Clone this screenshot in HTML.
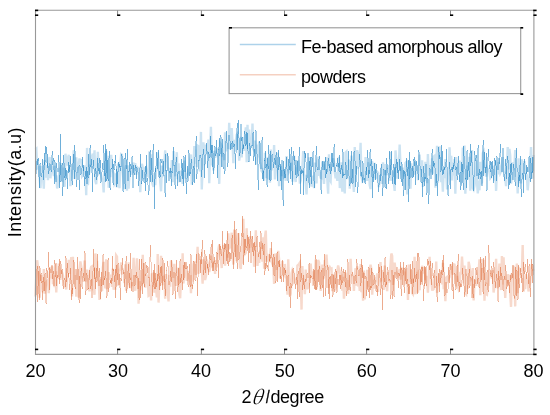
<!DOCTYPE html>
<html><head><meta charset="utf-8"><style>
html,body{margin:0;padding:0;background:#fff;}
svg{display:block;}
.t{font-family:"Liberation Sans",Arial,sans-serif;font-size:18px;fill:#000;}
.lg{font-family:"Liberation Sans",Arial,sans-serif;font-size:18px;fill:#000;letter-spacing:-0.5px;}
.yl{font-family:"Liberation Sans",Arial,sans-serif;font-size:18px;fill:#000;letter-spacing:0.43px;}
.th{font-family:"Liberation Serif","DejaVu Serif",serif;font-style:italic;font-size:20px;fill:#000;}
</style></head><body>
<svg width="550" height="415" viewBox="0 0 550 415">
<rect width="550" height="415" fill="#fff"/>

<polyline points="35.50,149.5 36.33,148.7 37.16,168.3 37.99,167.7 38.83,167.3 39.66,178.9 40.49,188.2 41.32,167.0 42.15,166.8 42.98,175.6 43.81,188.7 44.65,160.1 45.48,177.7 46.31,167.1 47.14,166.1 47.97,180.1 48.80,160.5 49.63,157.1 50.46,178.3 51.30,169.9 52.13,167.0 52.96,168.6 53.79,176.2 54.62,165.7 55.45,179.5 56.28,175.3 57.12,188.3 57.95,185.6 58.78,180.7 59.61,167.8 60.44,171.7 61.27,163.0 62.10,182.0 62.94,167.6 63.77,177.0 64.60,186.8 65.43,153.7 66.26,160.3 67.09,165.5 67.92,158.2 68.76,154.9 69.59,164.1 70.42,186.1 71.25,179.2 72.08,170.8 72.91,170.7 73.74,150.2 74.58,178.9 75.41,175.6 76.24,157.2 77.07,172.9 77.90,168.1 78.73,164.1 79.56,158.4 80.39,162.2 81.23,159.0 82.06,176.1 82.89,174.9 83.72,174.4 84.55,168.3 85.38,165.5 86.21,195.3 87.05,147.9 87.88,185.1 88.71,174.8 89.54,171.4 90.37,164.4 91.20,167.9 92.03,156.1 92.87,153.7 93.70,169.2 94.53,150.4 95.36,180.8 96.19,184.2 97.02,171.4 97.85,151.7 98.69,173.9 99.52,173.2 100.35,172.0 101.18,175.8 102.01,179.7 102.84,181.2 103.67,192.4 104.51,171.0 105.34,181.2 106.17,151.0 107.00,169.1 107.83,155.9 108.66,187.7 109.49,169.3 110.32,177.3 111.16,154.9 111.99,169.4 112.82,171.1 113.65,173.2 114.48,184.0 115.31,182.4 116.14,173.3 116.98,187.4 117.81,164.8 118.64,164.0 119.47,188.1 120.30,167.6 121.13,154.2 121.96,154.7 122.80,171.6 123.63,181.9 124.46,189.1 125.29,168.8 126.12,165.2 126.95,190.6 127.78,165.3 128.62,188.6 129.45,173.8 130.28,173.8 131.11,168.1 131.94,174.6 132.77,165.3 133.60,162.7 134.43,169.3 135.27,163.1 136.10,174.7 136.93,172.0 137.76,167.8 138.59,168.6 139.42,168.2 140.25,192.2 141.09,170.9 141.92,163.8 142.75,167.4 143.58,179.1 144.41,168.6 145.24,169.2 146.07,167.9 146.91,173.1 147.74,175.8 148.57,176.5 149.40,151.2 150.23,158.1 151.06,154.3 151.89,180.8 152.73,184.6 153.56,186.9 154.39,172.9 155.22,185.1 156.05,170.7 156.88,169.7 157.71,152.4 158.55,161.6 159.38,163.9 160.21,182.3 161.04,191.3 161.87,165.5 162.70,175.7 163.53,174.5 164.36,161.8 165.20,150.3 166.03,162.0 166.86,153.7 167.69,167.4 168.52,169.5 169.35,169.0 170.18,169.2 171.02,177.2 171.85,160.0 172.68,182.2 173.51,151.1 174.34,172.2 175.17,176.2 176.00,161.9 176.84,152.2 177.67,179.3 178.50,163.4 179.33,181.1 180.16,181.0 180.99,171.6 181.82,171.7 182.66,183.8 183.49,176.4 184.32,160.5 185.15,173.9 185.98,178.6 186.81,174.4 187.64,174.3 188.47,170.2 189.31,170.6 190.14,160.7 190.97,154.5 191.80,184.6 192.63,161.7 193.46,169.8 194.29,146.1 195.13,163.6 195.96,149.7 196.79,167.2 197.62,145.6 198.45,146.1 199.28,169.1 200.11,171.3 200.95,131.9 201.78,189.5 202.61,167.8 203.44,142.3 204.27,165.2 205.10,150.4 205.93,144.6 206.77,152.3 207.60,150.9 208.43,139.5 209.26,183.2 210.09,150.4 210.92,126.7 211.75,165.5 212.59,153.9 213.42,170.5 214.25,150.7 215.08,157.8 215.91,154.2 216.74,154.7 217.57,149.8 218.40,150.6 219.24,183.9 220.07,142.8 220.90,144.0 221.73,146.0 222.56,156.7 223.39,154.2 224.22,160.2 225.06,132.4 225.89,151.3 226.72,145.6 227.55,143.8 228.38,148.9 229.21,122.7 230.04,149.3 230.88,147.4 231.71,128.0 232.54,143.7 233.37,163.3 234.20,139.8 235.03,151.6 235.86,141.7 236.70,134.8 237.53,133.6 238.36,140.1 239.19,160.7 240.02,155.0 240.85,136.8 241.68,157.4 242.52,144.0 243.35,137.3 244.18,151.0 245.01,135.0 245.84,127.3 246.67,162.1 247.50,124.9 248.33,153.9 249.17,129.5 250.00,148.0 250.83,146.5 251.66,144.1 252.49,123.6 253.32,149.1 254.15,150.4 254.99,140.6 255.82,151.1 256.65,164.4 257.48,144.6 258.31,157.4 259.14,141.6 259.97,161.4 260.81,166.0 261.64,171.1 262.47,172.2 263.30,168.0 264.13,180.8 264.96,152.8 265.79,178.3 266.63,159.2 267.46,158.6 268.29,179.4 269.12,169.3 269.95,182.7 270.78,149.6 271.61,170.5 272.44,161.2 273.28,164.5 274.11,145.1 274.94,179.4 275.77,171.0 276.60,156.9 277.43,152.8 278.26,158.7 279.10,186.2 279.93,168.5 280.76,165.9 281.59,176.0 282.42,170.3 283.25,173.0 284.08,179.2 284.92,174.3 285.75,180.8 286.58,156.0 287.41,171.1 288.24,166.1 289.07,171.6 289.90,169.8 290.74,162.7 291.57,166.2 292.40,181.7 293.23,163.8 294.06,155.5 294.89,177.5 295.72,182.0 296.56,167.2 297.39,171.9 298.22,160.4 299.05,168.0 299.88,183.6 300.71,180.0 301.54,172.2 302.37,167.1 303.21,151.0 304.04,174.2 304.87,175.9 305.70,183.0 306.53,194.5 307.36,174.9 308.19,181.9 309.03,157.2 309.86,184.8 310.69,180.8 311.52,186.7 312.35,178.5 313.18,175.9 314.01,188.1 314.85,162.6 315.68,178.2 316.51,183.4 317.34,161.2 318.17,156.8 319.00,175.7 319.83,172.0 320.67,177.8 321.50,178.2 322.33,161.5 323.16,174.6 323.99,184.0 324.82,166.4 325.65,167.2 326.48,157.2 327.32,180.3 328.15,193.8 328.98,154.4 329.81,179.7 330.64,181.3 331.47,164.0 332.30,166.2 333.14,158.3 333.97,161.4 334.80,172.6 335.63,178.4 336.46,172.1 337.29,180.8 338.12,173.1 338.96,156.8 339.79,187.9 340.62,184.7 341.45,162.3 342.28,191.7 343.11,176.3 343.94,172.3 344.78,193.5 345.61,152.6 346.44,151.7 347.27,179.2 348.10,167.8 348.93,159.5 349.76,188.6 350.60,176.5 351.43,155.6 352.26,162.9 353.09,180.8 353.92,192.0 354.75,147.0 355.58,173.8 356.41,166.3 357.25,150.1 358.08,168.8 358.91,151.8 359.74,164.5 360.57,142.8 361.40,176.9 362.23,180.1 363.07,178.0 363.90,175.1 364.73,182.4 365.56,157.0 366.39,166.6 367.22,181.0 368.05,162.2 368.89,165.7 369.72,185.2 370.55,189.1 371.38,163.7 372.21,161.2 373.04,177.8 373.87,174.1 374.71,162.9 375.54,178.0 376.37,177.5 377.20,171.9 378.03,172.8 378.86,187.1 379.69,180.6 380.53,183.1 381.36,167.6 382.19,184.0 383.02,162.4 383.85,174.8 384.68,171.9 385.51,164.2 386.34,174.1 387.18,174.0 388.01,170.3 388.84,165.2 389.67,180.8 390.50,152.0 391.33,180.8 392.16,171.1 393.00,174.3 393.83,182.6 394.66,191.0 395.49,150.4 396.32,160.7 397.15,178.7 397.98,163.8 398.82,166.2 399.65,144.5 400.48,165.8 401.31,173.5 402.14,179.1 402.97,167.6 403.80,173.6 404.64,176.2 405.47,163.0 406.30,162.1 407.13,194.4 407.96,160.9 408.79,185.7 409.62,171.9 410.45,188.6 411.29,163.4 412.12,177.2 412.95,175.0 413.78,168.3 414.61,174.7 415.44,161.9 416.27,170.1 417.11,166.3 417.94,180.1 418.77,170.0 419.60,154.5 420.43,166.6 421.26,169.9 422.09,160.3 422.93,186.9 423.76,175.9 424.59,181.1 425.42,161.9 426.25,166.3 427.08,183.1 427.91,154.0 428.75,175.4 429.58,172.1 430.41,165.1 431.24,172.1 432.07,158.2 432.90,173.7 433.73,156.5 434.57,155.8 435.40,187.7 436.23,162.7 437.06,145.8 437.89,182.7 438.72,161.8 439.55,146.2 440.38,170.4 441.22,182.1 442.05,175.3 442.88,191.6 443.71,169.6 444.54,178.2 445.37,159.0 446.20,173.0 447.04,189.4 447.87,177.1 448.70,173.0 449.53,147.4 450.36,166.6 451.19,155.7 452.02,180.4 452.86,162.2 453.69,175.4 454.52,159.1 455.35,193.6 456.18,157.0 457.01,172.7 457.84,170.2 458.68,173.6 459.51,160.6 460.34,178.4 461.17,182.9 462.00,181.5 462.83,147.5 463.66,173.7 464.49,145.6 465.33,193.8 466.16,171.9 466.99,165.6 467.82,179.1 468.65,176.9 469.48,156.9 470.31,190.6 471.15,168.2 471.98,150.0 472.81,187.9 473.64,189.5 474.47,186.1 475.30,177.7 476.13,160.4 476.97,182.3 477.80,193.4 478.63,180.9 479.46,190.3 480.29,161.8 481.12,183.4 481.95,182.4 482.79,153.2 483.62,151.6 484.45,162.5 485.28,172.1 486.11,176.6 486.94,168.4 487.77,170.3 488.61,169.8 489.44,172.2 490.27,178.2 491.10,177.1 491.93,170.5 492.76,174.3 493.59,165.7 494.42,180.7 495.26,165.1 496.09,190.9 496.92,170.9 497.75,174.4 498.58,162.0 499.41,167.0 500.24,173.1 501.08,171.4 501.91,163.6 502.74,157.1 503.57,171.6 504.40,173.0 505.23,177.8 506.06,186.2 506.90,167.4 507.73,147.1 508.56,169.4 509.39,148.9 510.22,155.6 511.05,183.6 511.88,178.0 512.72,163.4 513.55,163.5 514.38,170.1 515.21,150.0 516.04,177.0 516.87,166.9 517.70,193.4 518.54,158.4 519.37,183.3 520.20,162.9 521.03,183.5 521.86,159.3 522.69,180.0 523.52,165.8 524.35,161.2 525.19,169.4 526.02,176.9 526.85,176.1 527.68,190.3 528.51,181.1 529.34,179.6 530.17,166.3 531.01,147.1 531.84,166.5 532.67,178.7 533.50,155.0" fill="none" stroke="#0072BD" stroke-width="2.4" stroke-opacity="0.2"/>
<polyline points="35.50,296.5 36.33,275.0 37.16,260.2 37.99,267.2 38.83,273.6 39.66,297.6 40.49,280.1 41.32,275.1 42.15,286.9 42.98,292.3 43.81,269.1 44.65,293.7 45.48,287.3 46.31,282.7 47.14,280.8 47.97,279.8 48.80,293.3 49.63,274.6 50.46,267.4 51.30,278.5 52.13,266.2 52.96,284.3 53.79,281.0 54.62,287.1 55.45,275.2 56.28,292.4 57.12,271.4 57.95,279.2 58.78,263.6 59.61,268.7 60.44,280.0 61.27,270.3 62.10,272.6 62.94,275.4 63.77,280.6 64.60,286.4 65.43,286.4 66.26,289.3 67.09,280.0 67.92,271.6 68.76,259.8 69.59,273.8 70.42,268.7 71.25,257.2 72.08,296.4 72.91,256.9 73.74,281.8 74.58,284.0 75.41,275.1 76.24,296.7 77.07,278.0 77.90,269.1 78.73,297.7 79.56,268.7 80.39,261.5 81.23,266.3 82.06,270.5 82.89,278.3 83.72,281.6 84.55,260.5 85.38,281.7 86.21,273.8 87.05,269.6 87.88,276.3 88.71,285.6 89.54,291.4 90.37,270.2 91.20,266.8 92.03,266.3 92.87,290.2 93.70,288.0 94.53,294.8 95.36,253.4 96.19,263.7 97.02,260.7 97.85,282.4 98.69,280.2 99.52,300.0 100.35,286.8 101.18,279.1 102.01,291.2 102.84,267.6 103.67,261.9 104.51,278.1 105.34,288.4 106.17,259.3 107.00,287.9 107.83,287.5 108.66,272.1 109.49,279.7 110.32,274.6 111.16,278.7 111.99,286.9 112.82,268.6 113.65,289.6 114.48,287.7 115.31,288.1 116.14,255.3 116.98,256.6 117.81,285.6 118.64,271.1 119.47,269.9 120.30,269.0 121.13,262.5 121.96,274.5 122.80,269.5 123.63,270.3 124.46,283.2 125.29,264.3 126.12,290.6 126.95,278.3 127.78,284.5 128.62,262.3 129.45,284.4 130.28,288.1 131.11,277.7 131.94,286.2 132.77,276.5 133.60,257.7 134.43,281.7 135.27,290.8 136.10,271.5 136.93,258.4 137.76,270.9 138.59,303.6 139.42,281.2 140.25,290.3 141.09,284.1 141.92,283.5 142.75,254.9 143.58,281.2 144.41,278.3 145.24,287.6 146.07,273.8 146.91,276.0 147.74,278.4 148.57,295.7 149.40,295.1 150.23,284.8 151.06,300.4 151.89,273.3 152.73,283.7 153.56,272.6 154.39,292.6 155.22,278.2 156.05,289.0 156.88,297.5 157.71,254.1 158.55,302.6 159.38,281.5 160.21,274.2 161.04,255.9 161.87,274.4 162.70,285.1 163.53,278.8 164.36,275.9 165.20,298.7 166.03,274.1 166.86,290.1 167.69,291.2 168.52,301.5 169.35,275.0 170.18,286.6 171.02,260.4 171.85,265.2 172.68,274.7 173.51,277.6 174.34,263.9 175.17,273.1 176.00,285.9 176.84,272.6 177.67,276.1 178.50,267.7 179.33,293.8 180.16,298.3 180.99,280.3 181.82,276.6 182.66,253.3 183.49,283.4 184.32,270.2 185.15,262.4 185.98,271.1 186.81,280.8 187.64,271.1 188.47,273.5 189.31,277.9 190.14,275.4 190.97,293.1 191.80,275.0 192.63,281.7 193.46,264.7 194.29,261.2 195.13,265.6 195.96,275.0 196.79,263.2 197.62,246.9 198.45,273.8 199.28,265.6 200.11,263.6 200.95,259.3 201.78,268.9 202.61,283.7 203.44,259.4 204.27,270.5 205.10,280.0 205.93,276.5 206.77,265.4 207.60,262.7 208.43,265.6 209.26,272.0 210.09,267.8 210.92,255.5 211.75,265.4 212.59,264.1 213.42,267.2 214.25,261.1 215.08,274.0 215.91,260.0 216.74,267.3 217.57,257.0 218.40,249.3 219.24,244.4 220.07,252.8 220.90,260.2 221.73,268.0 222.56,251.8 223.39,246.2 224.22,245.7 225.06,265.8 225.89,251.5 226.72,243.9 227.55,257.6 228.38,233.3 229.21,249.2 230.04,246.7 230.88,245.1 231.71,232.7 232.54,256.8 233.37,264.5 234.20,229.6 235.03,246.0 235.86,251.9 236.70,261.1 237.53,239.4 238.36,233.1 239.19,243.8 240.02,266.9 240.85,268.9 241.68,246.4 242.52,263.7 243.35,218.7 244.18,250.8 245.01,254.0 245.84,252.8 246.67,228.3 247.50,250.5 248.33,245.4 249.17,247.8 250.00,236.4 250.83,240.8 251.66,236.3 252.49,247.3 253.32,244.4 254.15,266.8 254.99,255.1 255.82,230.2 256.65,253.6 257.48,265.8 258.31,253.1 259.14,263.0 259.97,250.6 260.81,259.7 261.64,241.4 262.47,261.7 263.30,237.4 264.13,268.7 264.96,237.0 265.79,230.6 266.63,261.6 267.46,254.1 268.29,257.9 269.12,262.1 269.95,257.5 270.78,248.2 271.61,261.5 272.44,263.8 273.28,266.1 274.11,284.0 274.94,253.5 275.77,263.4 276.60,269.8 277.43,258.9 278.26,251.0 279.10,259.0 279.93,278.4 280.76,264.0 281.59,275.2 282.42,261.1 283.25,276.3 284.08,265.2 284.92,265.1 285.75,277.5 286.58,277.8 287.41,294.7 288.24,259.3 289.07,283.9 289.90,296.5 290.74,293.7 291.57,273.6 292.40,270.2 293.23,272.3 294.06,281.5 294.89,280.2 295.72,282.0 296.56,284.9 297.39,265.7 298.22,265.0 299.05,263.9 299.88,262.6 300.71,276.9 301.54,309.6 302.37,266.1 303.21,284.1 304.04,278.2 304.87,294.3 305.70,269.6 306.53,281.9 307.36,289.2 308.19,287.0 309.03,282.6 309.86,274.0 310.69,263.7 311.52,276.2 312.35,271.2 313.18,285.9 314.01,276.4 314.85,284.5 315.68,259.5 316.51,289.2 317.34,268.2 318.17,260.0 319.00,262.2 319.83,270.8 320.67,290.9 321.50,286.2 322.33,264.5 323.16,279.0 323.99,276.8 324.82,260.0 325.65,266.6 326.48,254.6 327.32,268.0 328.15,288.0 328.98,268.9 329.81,267.2 330.64,268.8 331.47,268.5 332.30,291.3 333.14,274.0 333.97,280.8 334.80,286.7 335.63,288.3 336.46,285.8 337.29,271.6 338.12,265.4 338.96,269.1 339.79,272.6 340.62,278.1 341.45,277.0 342.28,290.6 343.11,276.8 343.94,298.6 344.78,289.8 345.61,272.5 346.44,287.9 347.27,280.0 348.10,293.8 348.93,282.7 349.76,282.6 350.60,258.7 351.43,275.0 352.26,275.1 353.09,276.4 353.92,290.9 354.75,275.8 355.58,268.2 356.41,285.6 357.25,266.4 358.08,286.5 358.91,279.6 359.74,290.9 360.57,264.1 361.40,292.3 362.23,281.4 363.07,300.6 363.90,270.5 364.73,299.3 365.56,286.1 366.39,287.0 367.22,269.7 368.05,284.4 368.89,285.7 369.72,268.5 370.55,264.7 371.38,269.1 372.21,294.8 373.04,279.8 373.87,288.7 374.71,281.3 375.54,279.3 376.37,280.5 377.20,273.3 378.03,292.0 378.86,280.0 379.69,280.6 380.53,262.1 381.36,281.5 382.19,270.3 383.02,272.3 383.85,289.9 384.68,265.5 385.51,275.7 386.34,285.2 387.18,291.2 388.01,272.1 388.84,281.7 389.67,281.3 390.50,265.1 391.33,253.5 392.16,255.9 393.00,284.9 393.83,279.2 394.66,262.6 395.49,270.7 396.32,273.4 397.15,273.9 397.98,277.6 398.82,271.9 399.65,269.0 400.48,279.6 401.31,269.2 402.14,270.8 402.97,267.9 403.80,275.4 404.64,271.7 405.47,282.0 406.30,280.4 407.13,267.8 407.96,300.0 408.79,264.6 409.62,282.1 410.45,271.5 411.29,269.8 412.12,293.2 412.95,294.3 413.78,281.9 414.61,256.8 415.44,294.3 416.27,279.0 417.11,271.7 417.94,292.6 418.77,269.7 419.60,290.2 420.43,271.7 421.26,284.1 422.09,265.7 422.93,273.5 423.76,267.5 424.59,269.8 425.42,280.1 426.25,276.0 427.08,280.1 427.91,292.7 428.75,276.7 429.58,256.7 430.41,274.7 431.24,278.9 432.07,289.7 432.90,289.8 433.73,288.9 434.57,275.4 435.40,285.4 436.23,261.5 437.06,292.8 437.89,283.0 438.72,283.8 439.55,273.6 440.38,278.6 441.22,270.3 442.05,284.5 442.88,262.8 443.71,289.1 444.54,284.2 445.37,301.2 446.20,277.6 447.04,276.9 447.87,280.2 448.70,278.4 449.53,276.8 450.36,265.4 451.19,265.3 452.02,271.5 452.86,274.7 453.69,264.4 454.52,264.7 455.35,274.7 456.18,286.5 457.01,275.8 457.84,285.8 458.68,289.1 459.51,286.8 460.34,273.2 461.17,273.4 462.00,256.6 462.83,270.2 463.66,283.4 464.49,265.5 465.33,293.5 466.16,294.4 466.99,273.8 467.82,288.6 468.65,261.8 469.48,266.0 470.31,273.7 471.15,278.1 471.98,275.9 472.81,268.1 473.64,300.5 474.47,281.3 475.30,281.3 476.13,285.8 476.97,280.0 477.80,275.4 478.63,271.6 479.46,259.3 480.29,295.1 481.12,267.5 481.95,259.0 482.79,268.8 483.62,259.7 484.45,300.8 485.28,282.2 486.11,294.1 486.94,294.6 487.77,284.5 488.61,284.6 489.44,269.7 490.27,277.0 491.10,271.1 491.93,278.5 492.76,270.0 493.59,292.5 494.42,286.7 495.26,276.8 496.09,258.9 496.92,285.8 497.75,288.1 498.58,277.2 499.41,263.6 500.24,282.9 501.08,290.0 501.91,256.1 502.74,284.5 503.57,257.2 504.40,278.9 505.23,298.0 506.06,279.0 506.90,283.5 507.73,274.3 508.56,277.9 509.39,276.8 510.22,293.3 511.05,306.9 511.88,273.6 512.72,278.2 513.55,265.7 514.38,280.4 515.21,306.4 516.04,273.8 516.87,263.5 517.70,293.1 518.54,277.1 519.37,269.0 520.20,270.1 521.03,270.3 521.86,271.1 522.69,245.1 523.52,291.7 524.35,282.4 525.19,289.1 526.02,274.1 526.85,282.0 527.68,279.9 528.51,291.4 529.34,287.3 530.17,282.1 531.01,270.6 531.84,264.3 532.67,268.9 533.50,270.8" fill="none" stroke="#D95319" stroke-width="2.4" stroke-opacity="0.22"/>
<polyline points="35.50,170.5 36.05,174.3 36.61,167.0 37.16,159.1 37.72,164.7 38.27,157.8 38.82,171.3 39.38,187.7 39.93,164.2 40.49,162.6 41.04,176.8 41.59,175.1 42.15,171.9 42.70,158.6 43.26,170.2 43.81,179.5 44.36,153.4 44.92,164.7 45.47,146.2 46.03,154.1 46.58,147.0 47.13,167.6 47.69,154.4 48.24,174.1 48.79,172.6 49.35,168.2 49.90,163.4 50.46,163.7 51.01,170.0 51.56,172.1 52.12,151.0 52.67,164.5 53.23,158.1 53.78,160.3 54.33,184.2 54.89,160.3 55.44,170.2 56.00,182.0 56.55,163.2 57.10,169.2 57.66,172.1 58.21,171.5 58.77,155.0 59.32,171.7 59.87,188.1 60.43,134.2 60.98,181.7 61.54,172.2 62.09,162.5 62.64,196.3 63.20,180.5 63.75,155.4 64.31,171.7 64.86,178.1 65.41,168.3 65.97,179.5 66.52,169.9 67.08,179.3 67.63,189.2 68.18,162.1 68.74,173.4 69.29,164.8 69.84,172.4 70.40,155.6 70.95,163.4 71.51,168.3 72.06,182.3 72.61,185.4 73.17,153.8 73.72,160.6 74.28,179.1 74.83,145.3 75.38,164.9 75.94,169.6 76.49,186.9 77.05,179.6 77.60,166.6 78.15,166.1 78.71,167.6 79.26,190.3 79.82,165.4 80.37,167.0 80.92,175.4 81.48,169.3 82.03,168.3 82.59,156.6 83.14,170.7 83.69,165.2 84.25,185.8 84.80,179.2 85.36,170.6 85.91,179.4 86.46,166.5 87.02,184.4 87.57,170.8 88.13,178.4 88.68,154.4 89.23,175.3 89.79,149.3 90.34,144.9 90.89,167.0 91.45,159.4 92.00,173.0 92.56,191.6 93.11,160.3 93.66,163.0 94.22,173.6 94.77,177.3 95.33,168.7 95.88,168.3 96.43,180.0 96.99,177.6 97.54,157.7 98.10,170.0 98.65,171.4 99.20,157.5 99.76,174.3 100.31,160.0 100.87,183.4 101.42,173.5 101.97,172.1 102.53,163.4 103.08,169.5 103.64,145.4 104.19,156.5 104.74,175.7 105.30,143.8 105.85,181.9 106.41,148.7 106.96,180.7 107.51,160.2 108.07,181.0 108.62,172.7 109.18,151.4 109.73,187.0 110.28,189.5 110.84,170.2 111.39,167.6 111.94,169.0 112.50,158.6 113.05,185.1 113.61,164.1 114.16,170.4 114.71,160.9 115.27,163.1 115.82,154.7 116.38,187.2 116.93,169.1 117.48,183.5 118.04,171.3 118.59,162.2 119.15,166.9 119.70,164.0 120.25,171.2 120.81,166.3 121.36,167.3 121.92,153.5 122.47,160.8 123.02,192.3 123.58,162.6 124.13,157.7 124.69,175.5 125.24,189.2 125.79,152.6 126.35,168.5 126.90,163.1 127.46,148.7 128.01,180.6 128.56,170.9 129.12,172.1 129.67,161.6 130.23,177.0 130.78,164.3 131.33,169.4 131.89,157.0 132.44,155.7 132.99,188.3 133.55,164.7 134.10,175.0 134.66,170.8 135.21,165.6 135.76,164.8 136.32,179.3 136.87,167.4 137.43,169.3 137.98,171.6 138.53,186.3 139.09,180.0 139.64,176.2 140.20,164.1 140.75,153.6 141.30,183.5 141.86,183.7 142.41,169.5 142.97,178.2 143.52,181.3 144.07,182.0 144.63,183.1 145.18,165.5 145.74,190.7 146.29,155.4 146.84,182.4 147.40,177.7 147.95,182.5 148.51,195.4 149.06,190.4 149.61,156.7 150.17,149.7 150.72,181.8 151.28,158.4 151.83,171.2 152.38,182.1 152.94,150.3 153.49,144.4 154.05,174.7 154.60,209.4 155.15,168.3 155.71,171.9 156.26,160.4 156.81,152.0 157.37,169.3 157.92,159.0 158.48,150.4 159.03,177.9 159.58,170.6 160.14,176.6 160.69,158.8 161.25,163.0 161.80,158.7 162.35,160.1 162.91,174.0 163.46,161.4 164.02,176.0 164.57,175.8 165.12,197.4 165.68,153.7 166.23,182.8 166.79,170.3 167.34,171.3 167.89,152.9 168.45,165.6 169.00,181.0 169.56,170.5 170.11,172.6 170.66,167.9 171.22,186.4 171.77,171.4 172.33,173.1 172.88,162.8 173.43,146.5 173.99,165.5 174.54,165.0 175.10,188.9 175.65,172.4 176.20,156.8 176.76,159.8 177.31,186.3 177.86,173.9 178.42,172.5 178.97,171.3 179.53,172.5 180.08,182.3 180.63,179.1 181.19,174.8 181.74,158.7 182.30,178.6 182.85,163.3 183.40,186.1 183.96,155.9 184.51,170.4 185.07,172.1 185.62,155.3 186.17,194.3 186.73,191.0 187.28,166.4 187.84,182.2 188.39,177.2 188.94,150.0 189.50,175.6 190.05,171.6 190.61,173.5 191.16,158.7 191.71,168.6 192.27,169.0 192.82,185.2 193.38,172.5 193.93,165.9 194.48,183.2 195.04,154.5 195.59,155.1 196.15,135.8 196.70,178.5 197.25,170.6 197.81,169.9 198.36,166.7 198.91,159.5 199.47,160.7 200.02,154.7 200.58,155.2 201.13,158.4 201.68,177.0 202.24,164.7 202.79,156.7 203.35,150.0 203.90,149.2 204.45,177.8 205.01,163.7 205.56,158.0 206.12,152.6 206.67,142.7 207.22,156.0 207.78,168.0 208.33,151.7 208.89,153.7 209.44,153.7 209.99,157.7 210.55,135.7 211.10,152.8 211.66,144.6 212.21,166.6 212.76,145.2 213.32,162.1 213.87,174.0 214.43,150.2 214.98,146.2 215.53,156.1 216.09,153.3 216.64,140.4 217.20,158.7 217.75,178.3 218.30,149.0 218.86,149.4 219.41,138.3 219.96,155.5 220.52,135.2 221.07,136.7 221.63,167.0 222.18,138.7 222.73,163.9 223.29,169.3 223.84,152.8 224.40,156.3 224.95,173.9 225.50,146.2 226.06,140.8 226.61,130.8 227.17,148.4 227.72,166.5 228.27,159.6 228.83,135.0 229.38,135.8 229.94,140.0 230.49,149.9 231.04,143.3 231.60,148.4 232.15,149.2 232.71,141.3 233.26,144.4 233.81,147.4 234.37,143.6 234.92,151.1 235.48,168.7 236.03,152.4 236.58,145.7 237.14,123.4 237.69,150.1 238.25,120.3 238.80,127.3 239.35,156.3 239.91,154.5 240.46,143.6 241.02,123.8 241.57,141.0 242.12,137.1 242.68,154.1 243.23,144.7 243.78,148.9 244.34,136.2 244.89,131.3 245.45,145.7 246.00,144.3 246.55,132.0 247.11,148.5 247.66,132.6 248.22,161.9 248.77,161.6 249.32,162.2 249.88,142.6 250.43,155.6 250.99,147.6 251.54,144.7 252.09,145.6 252.65,133.7 253.20,132.2 253.76,161.1 254.31,148.9 254.86,154.4 255.42,164.8 255.97,130.1 256.53,142.6 257.08,155.3 257.63,158.6 258.19,190.3 258.74,168.2 259.30,158.6 259.85,141.4 260.40,146.0 260.96,169.3 261.51,165.9 262.07,136.6 262.62,179.2 263.17,170.6 263.73,181.1 264.28,159.7 264.83,161.4 265.39,151.2 265.94,167.8 266.50,163.8 267.05,186.5 267.60,158.1 268.16,168.6 268.71,145.3 269.27,161.9 269.82,179.6 270.37,151.1 270.93,181.0 271.48,171.8 272.04,154.3 272.59,161.4 273.14,162.1 273.70,167.5 274.25,161.4 274.81,157.8 275.36,164.7 275.91,155.6 276.47,152.4 277.02,168.5 277.58,180.5 278.13,149.8 278.68,169.6 279.24,161.4 279.79,157.4 280.35,180.9 280.90,163.5 281.45,189.5 282.01,160.4 282.56,175.4 283.12,205.8 283.67,160.8 284.22,178.0 284.78,168.5 285.33,178.2 285.88,169.9 286.44,156.6 286.99,169.2 287.55,171.2 288.10,182.8 288.65,158.9 289.21,170.0 289.76,148.5 290.32,178.8 290.87,156.7 291.42,147.4 291.98,169.7 292.53,184.7 293.09,151.0 293.64,156.6 294.19,161.0 294.75,156.0 295.30,175.4 295.86,160.2 296.41,161.3 296.96,178.0 297.52,160.8 298.07,176.0 298.63,158.1 299.18,155.0 299.73,147.0 300.29,194.3 300.84,166.4 301.40,173.6 301.95,170.1 302.50,172.5 303.06,171.1 303.61,194.9 304.17,157.2 304.72,150.6 305.27,157.5 305.83,153.4 306.38,180.1 306.93,181.0 307.49,158.2 308.04,152.7 308.60,166.0 309.15,188.3 309.70,161.2 310.26,177.2 310.81,156.7 311.37,183.8 311.92,156.7 312.47,166.8 313.03,151.2 313.58,158.0 314.14,188.2 314.69,181.0 315.24,165.4 315.80,159.4 316.35,146.3 316.91,165.5 317.46,170.1 318.01,169.4 318.57,169.3 319.12,156.1 319.68,169.7 320.23,170.0 320.78,187.0 321.34,194.4 321.89,168.7 322.45,160.7 323.00,169.7 323.55,162.7 324.11,161.0 324.66,169.7 325.22,157.1 325.77,178.3 326.32,169.2 326.88,173.7 327.43,168.2 327.98,161.2 328.54,158.4 329.09,167.5 329.65,163.5 330.20,173.5 330.75,170.4 331.31,153.1 331.86,171.4 332.42,153.3 332.97,162.6 333.52,166.7 334.08,143.9 334.63,171.7 335.19,172.4 335.74,168.5 336.29,165.1 336.85,165.7 337.40,158.0 337.96,167.0 338.51,163.4 339.06,171.7 339.62,155.1 340.17,173.5 340.73,172.3 341.28,168.7 341.83,164.9 342.39,177.6 342.94,149.2 343.50,176.4 344.05,173.6 344.60,174.1 345.16,175.4 345.71,162.1 346.27,167.2 346.82,178.7 347.37,176.0 347.93,173.1 348.48,151.1 349.04,177.4 349.59,185.5 350.14,183.4 350.70,173.5 351.25,150.6 351.80,182.6 352.36,168.6 352.91,184.1 353.47,175.3 354.02,151.4 354.57,153.9 355.13,162.4 355.68,186.8 356.24,165.8 356.79,174.0 357.34,192.9 357.90,190.9 358.45,169.2 359.01,167.4 359.56,154.4 360.11,161.6 360.67,175.9 361.22,175.6 361.78,171.9 362.33,183.2 362.88,160.6 363.44,169.8 363.99,179.9 364.55,178.0 365.10,184.2 365.65,175.6 366.21,166.5 366.76,175.1 367.32,157.7 367.87,149.5 368.42,177.9 368.98,169.8 369.53,174.4 370.09,148.8 370.64,165.8 371.19,162.8 371.75,159.4 372.30,198.2 372.85,166.2 373.41,182.0 373.96,175.4 374.52,162.8 375.07,170.3 375.62,180.2 376.18,163.6 376.73,168.9 377.29,177.5 377.84,179.2 378.39,192.3 378.95,185.0 379.50,174.5 380.06,174.4 380.61,180.6 381.16,163.6 381.72,170.0 382.27,182.1 382.83,195.6 383.38,168.5 383.93,169.9 384.49,173.0 385.04,187.7 385.60,170.1 386.15,189.3 386.70,158.1 387.26,168.1 387.81,168.0 388.37,180.6 388.92,183.9 389.47,151.2 390.03,158.8 390.58,174.8 391.14,162.1 391.69,151.0 392.24,183.8 392.80,176.8 393.35,176.8 393.90,164.4 394.46,183.7 395.01,167.4 395.57,184.5 396.12,158.8 396.67,159.6 397.23,173.1 397.78,161.5 398.34,179.1 398.89,173.8 399.44,158.7 400.00,171.4 400.55,166.0 401.11,182.2 401.66,162.4 402.21,164.9 402.77,186.0 403.32,169.8 403.88,196.1 404.43,171.3 404.98,173.3 405.54,190.1 406.09,168.9 406.65,158.0 407.20,172.0 407.75,176.3 408.31,159.9 408.86,202.1 409.42,152.1 409.97,179.0 410.52,160.8 411.08,168.7 411.63,173.2 412.19,178.4 412.74,166.2 413.29,176.9 413.85,159.1 414.40,165.9 414.95,157.4 415.51,185.0 416.06,170.2 416.62,161.0 417.17,166.0 417.72,167.7 418.28,179.5 418.83,150.1 419.39,157.2 419.94,165.7 420.49,168.8 421.05,182.7 421.60,169.1 422.16,179.6 422.71,196.8 423.26,167.5 423.82,165.8 424.37,186.0 424.93,176.8 425.48,179.1 426.03,164.0 426.59,195.1 427.14,192.4 427.70,177.7 428.25,179.3 428.80,204.4 429.36,178.7 429.91,168.0 430.47,176.1 431.02,179.2 431.57,166.1 432.13,148.9 432.68,175.2 433.24,161.0 433.79,166.3 434.34,162.8 434.90,166.1 435.45,173.7 436.01,186.1 436.56,173.7 437.11,184.7 437.67,195.8 438.22,170.8 438.77,147.4 439.33,159.1 439.88,155.1 440.44,164.1 440.99,171.5 441.54,144.9 442.10,174.9 442.65,151.2 443.21,174.3 443.76,169.1 444.31,166.5 444.87,169.6 445.42,163.6 445.98,162.7 446.53,149.0 447.08,170.1 447.64,194.1 448.19,195.9 448.75,187.4 449.30,179.5 449.85,161.8 450.41,189.0 450.96,169.8 451.52,169.6 452.07,166.8 452.62,171.7 453.18,164.9 453.73,169.4 454.29,156.6 454.84,165.7 455.39,168.0 455.95,169.6 456.50,167.4 457.06,177.3 457.61,179.6 458.16,156.2 458.72,167.8 459.27,182.3 459.82,174.0 460.38,172.1 460.93,190.4 461.49,161.8 462.04,171.6 462.59,163.8 463.15,189.6 463.70,145.5 464.26,161.9 464.81,163.7 465.36,179.0 465.92,178.3 466.47,188.4 467.03,150.4 467.58,180.1 468.13,166.7 468.69,162.0 469.24,177.4 469.80,158.7 470.35,143.9 470.90,165.8 471.46,151.3 472.01,162.2 472.57,175.3 473.12,174.5 473.67,190.8 474.23,167.9 474.78,150.9 475.34,160.8 475.89,158.7 476.44,154.9 477.00,176.1 477.55,162.2 478.11,145.2 478.66,179.4 479.21,169.1 479.77,175.1 480.32,171.9 480.87,178.6 481.43,171.0 481.98,186.3 482.54,175.9 483.09,140.3 483.64,175.7 484.20,151.9 484.75,168.4 485.31,167.2 485.86,173.2 486.41,153.1 486.97,191.4 487.52,171.8 488.08,155.0 488.63,148.6 489.18,166.9 489.74,169.4 490.29,161.3 490.85,171.7 491.40,162.3 491.95,177.6 492.51,161.2 493.06,170.0 493.62,183.0 494.17,171.4 494.72,157.6 495.28,164.6 495.83,159.8 496.39,180.5 496.94,155.8 497.49,164.3 498.05,170.1 498.60,158.0 499.16,158.2 499.71,164.4 500.26,143.6 500.82,152.0 501.37,165.2 501.92,172.4 502.48,168.1 503.03,147.8 503.59,164.6 504.14,180.7 504.69,177.6 505.25,169.5 505.80,159.1 506.36,178.6 506.91,163.1 507.46,155.5 508.02,160.2 508.57,189.0 509.13,173.3 509.68,185.3 510.23,164.4 510.79,182.5 511.34,162.8 511.90,168.5 512.45,178.7 513.00,180.3 513.56,164.1 514.11,169.4 514.67,174.7 515.22,186.0 515.77,164.2 516.33,148.2 516.88,166.9 517.44,170.7 517.99,171.9 518.54,187.4 519.10,174.6 519.65,180.9 520.21,156.4 520.76,181.6 521.31,197.3 521.87,180.4 522.42,173.7 522.97,172.5 523.53,193.4 524.08,158.6 524.64,169.1 525.19,176.4 525.74,180.0 526.30,164.9 526.85,174.4 527.41,166.9 527.96,172.0 528.51,168.8 529.07,155.9 529.62,170.2 530.18,181.7 530.73,158.1 531.28,167.4 531.84,179.0 532.39,156.8 532.95,172.8 533.50,156.9" fill="none" stroke="#0072BD" stroke-width="0.4" stroke-opacity="0.85" shape-rendering="crispEdges"/>
<polyline points="35.50,298.0 36.05,294.7 36.61,276.2 37.16,265.8 37.72,301.5 38.27,270.8 38.82,291.4 39.38,299.8 39.93,266.2 40.49,280.7 41.04,273.2 41.59,283.4 42.15,281.1 42.70,300.3 43.26,284.3 43.81,277.2 44.36,290.6 44.92,274.1 45.47,273.0 46.03,303.7 46.58,267.6 47.13,271.5 47.69,277.8 48.24,264.8 48.79,252.4 49.35,289.8 49.90,268.0 50.46,270.9 51.01,272.9 51.56,265.7 52.12,264.6 52.67,279.2 53.23,271.2 53.78,286.0 54.33,286.1 54.89,259.5 55.44,277.0 56.00,263.3 56.55,286.4 57.10,274.6 57.66,277.8 58.21,276.3 58.77,270.4 59.32,259.4 59.87,284.1 60.43,261.0 60.98,263.4 61.54,273.8 62.09,269.0 62.64,280.4 63.20,289.2 63.75,280.2 64.31,279.6 64.86,277.6 65.41,287.4 65.97,255.5 66.52,281.6 67.08,266.3 67.63,262.8 68.18,277.4 68.74,272.7 69.29,284.2 69.84,290.3 70.40,267.5 70.95,276.5 71.51,300.4 72.06,287.5 72.61,294.4 73.17,278.5 73.72,260.4 74.28,264.0 74.83,285.7 75.38,288.6 75.94,268.7 76.49,274.1 77.05,280.4 77.60,256.7 78.15,273.2 78.71,296.4 79.26,303.1 79.82,276.0 80.37,298.9 80.92,271.1 81.48,267.7 82.03,288.0 82.59,288.6 83.14,272.9 83.69,274.1 84.25,281.2 84.80,250.8 85.36,256.0 85.91,295.0 86.46,273.0 87.02,275.4 87.57,290.3 88.13,288.2 88.68,289.0 89.23,270.2 89.79,278.4 90.34,282.0 90.89,288.7 91.45,278.6 92.00,297.7 92.56,274.5 93.11,270.2 93.66,249.0 94.22,279.0 94.77,267.8 95.33,289.2 95.88,280.5 96.43,267.7 96.99,281.5 97.54,253.5 98.10,274.0 98.65,283.5 99.20,285.6 99.76,268.2 100.31,288.1 100.87,299.4 101.42,272.3 101.97,286.1 102.53,259.0 103.08,254.2 103.64,284.6 104.19,277.9 104.74,279.7 105.30,270.5 105.85,273.9 106.41,286.9 106.96,297.7 107.51,274.8 108.07,257.9 108.62,292.4 109.18,284.5 109.73,285.4 110.28,279.5 110.84,282.6 111.39,278.3 111.94,283.5 112.50,255.5 113.05,270.6 113.61,269.3 114.16,277.0 114.71,281.5 115.27,268.5 115.82,297.8 116.38,264.8 116.93,272.1 117.48,280.2 118.04,262.6 118.59,284.1 119.15,284.9 119.70,273.9 120.25,299.9 120.81,278.4 121.36,280.7 121.92,266.1 122.47,257.6 123.02,269.9 123.58,273.6 124.13,272.0 124.69,286.5 125.24,272.9 125.79,264.0 126.35,255.8 126.90,293.2 127.46,270.7 128.01,271.3 128.56,264.4 129.12,288.0 129.67,272.5 130.23,280.0 130.78,253.4 131.33,291.2 131.89,282.1 132.44,283.9 132.99,292.0 133.55,275.1 134.10,275.4 134.66,285.9 135.21,282.5 135.76,274.5 136.32,277.9 136.87,271.5 137.43,285.9 137.98,288.5 138.53,277.5 139.09,299.6 139.64,259.2 140.20,274.7 140.75,297.6 141.30,272.4 141.86,258.5 142.41,293.9 142.97,283.9 143.52,263.3 144.07,286.6 144.63,265.3 145.18,261.6 145.74,275.6 146.29,271.7 146.84,264.5 147.40,273.1 147.95,265.6 148.51,278.1 149.06,277.2 149.61,286.3 150.17,245.4 150.72,261.7 151.28,261.8 151.83,274.5 152.38,295.6 152.94,287.5 153.49,269.9 154.05,288.6 154.60,263.7 155.15,289.4 155.71,272.9 156.26,286.5 156.81,284.8 157.37,274.2 157.92,281.3 158.48,264.8 159.03,276.6 159.58,290.3 160.14,267.4 160.69,285.8 161.25,278.5 161.80,265.5 162.35,290.0 162.91,257.9 163.46,268.0 164.02,281.7 164.57,263.2 165.12,295.7 165.68,290.4 166.23,270.7 166.79,270.9 167.34,261.8 167.89,260.9 168.45,282.7 169.00,284.8 169.56,281.6 170.11,280.6 170.66,270.8 171.22,281.7 171.77,260.0 172.33,277.6 172.88,294.9 173.43,293.1 173.99,272.0 174.54,273.5 175.10,293.8 175.65,298.6 176.20,259.7 176.76,272.4 177.31,280.2 177.86,291.9 178.42,267.5 178.97,285.1 179.53,273.9 180.08,258.6 180.63,282.6 181.19,275.9 181.74,273.5 182.30,290.0 182.85,285.5 183.40,264.6 183.96,280.0 184.51,261.6 185.07,268.5 185.62,262.1 186.17,261.8 186.73,269.3 187.28,265.9 187.84,283.7 188.39,286.9 188.94,274.6 189.50,264.2 190.05,287.0 190.61,253.5 191.16,254.6 191.71,286.1 192.27,285.2 192.82,288.7 193.38,274.0 193.93,260.9 194.48,268.9 195.04,280.5 195.59,263.6 196.15,263.2 196.70,253.9 197.25,296.3 197.81,278.5 198.36,273.1 198.91,253.4 199.47,253.9 200.02,259.8 200.58,272.6 201.13,251.9 201.68,263.5 202.24,239.7 202.79,249.9 203.35,269.5 203.90,274.8 204.45,250.2 205.01,254.4 205.56,272.7 206.12,258.3 206.67,256.2 207.22,268.4 207.78,264.3 208.33,274.8 208.89,270.7 209.44,254.2 209.99,259.3 210.55,259.7 211.10,244.0 211.66,248.2 212.21,271.0 212.76,240.3 213.32,270.6 213.87,261.9 214.43,256.5 214.98,264.2 215.53,263.1 216.09,271.4 216.64,252.0 217.20,253.6 217.75,253.0 218.30,277.8 218.86,266.3 219.41,243.7 219.96,250.3 220.52,245.5 221.07,253.6 221.63,255.6 222.18,245.9 222.73,230.6 223.29,264.0 223.84,256.5 224.40,242.7 224.95,248.8 225.50,244.3 226.06,250.3 226.61,261.2 227.17,230.9 227.72,264.1 228.27,243.7 228.83,265.5 229.38,252.2 229.94,261.5 230.49,253.2 231.04,258.9 231.60,246.3 232.15,235.4 232.71,252.9 233.26,253.1 233.81,269.3 234.37,220.6 234.92,241.9 235.48,256.7 236.03,229.2 236.58,241.2 237.14,268.9 237.69,260.5 238.25,233.2 238.80,260.4 239.35,257.4 239.91,252.5 240.46,247.7 241.02,246.0 241.57,232.8 242.12,236.8 242.68,215.6 243.23,244.5 243.78,264.7 244.34,239.0 244.89,252.6 245.45,239.4 246.00,246.9 246.55,248.3 247.11,244.9 247.66,234.6 248.22,262.2 248.77,236.9 249.32,253.4 249.88,241.9 250.43,231.4 250.99,262.5 251.54,254.5 252.09,236.2 252.65,251.6 253.20,242.5 253.76,255.8 254.31,246.0 254.86,242.1 255.42,273.3 255.97,245.5 256.53,246.6 257.08,236.0 257.63,240.4 258.19,257.2 258.74,256.6 259.30,250.3 259.85,242.4 260.40,259.2 260.96,231.3 261.51,247.8 262.07,249.2 262.62,242.6 263.17,254.7 263.73,245.4 264.28,244.2 264.83,275.3 265.39,263.2 265.94,269.0 266.50,255.8 267.05,267.0 267.60,265.2 268.16,270.7 268.71,269.5 269.27,254.4 269.82,260.6 270.37,257.3 270.93,257.3 271.48,242.3 272.04,259.5 272.59,267.3 273.14,253.5 273.70,274.2 274.25,276.4 274.81,256.8 275.36,279.0 275.91,283.4 276.47,268.6 277.02,252.1 277.58,281.5 278.13,262.7 278.68,260.6 279.24,267.0 279.79,259.7 280.35,279.2 280.90,276.2 281.45,282.1 282.01,275.4 282.56,260.1 283.12,268.8 283.67,282.3 284.22,268.5 284.78,267.8 285.33,273.0 285.88,269.9 286.44,291.0 286.99,286.7 287.55,277.7 288.10,275.3 288.65,283.0 289.21,287.9 289.76,287.0 290.32,308.4 290.87,283.1 291.42,288.0 291.98,287.0 292.53,271.1 293.09,267.5 293.64,268.8 294.19,275.3 294.75,280.1 295.30,288.9 295.86,285.3 296.41,276.5 296.96,278.3 297.52,298.8 298.07,270.8 298.63,281.6 299.18,296.5 299.73,282.1 300.29,253.9 300.84,282.4 301.40,273.4 301.95,276.7 302.50,290.4 303.06,283.5 303.61,274.9 304.17,288.5 304.72,283.1 305.27,279.2 305.83,281.6 306.38,281.0 306.93,274.0 307.49,272.6 308.04,278.3 308.60,266.7 309.15,263.1 309.70,293.4 310.26,275.2 310.81,277.7 311.37,276.4 311.92,278.3 312.47,278.3 313.03,278.8 313.58,268.5 314.14,289.0 314.69,269.8 315.24,290.2 315.80,255.4 316.35,265.5 316.91,289.7 317.46,276.3 318.01,270.1 318.57,282.4 319.12,265.7 319.68,278.9 320.23,289.3 320.78,272.7 321.34,270.3 321.89,284.4 322.45,288.3 323.00,267.9 323.55,297.0 324.11,271.0 324.66,253.7 325.22,273.6 325.77,296.2 326.32,277.0 326.88,270.4 327.43,269.2 327.98,265.1 328.54,294.0 329.09,277.0 329.65,299.1 330.20,275.7 330.75,282.4 331.31,288.0 331.86,273.7 332.42,275.2 332.97,296.5 333.52,274.9 334.08,291.7 334.63,277.9 335.19,269.1 335.74,284.0 336.29,270.9 336.85,292.5 337.40,289.3 337.96,278.7 338.51,285.2 339.06,284.7 339.62,274.7 340.17,288.6 340.73,275.3 341.28,285.3 341.83,266.8 342.39,279.2 342.94,282.9 343.50,268.7 344.05,273.1 344.60,271.7 345.16,286.6 345.71,269.5 346.27,283.2 346.82,296.0 347.37,282.3 347.93,259.0 348.48,279.5 349.04,290.3 349.59,274.7 350.14,291.2 350.70,285.4 351.25,283.1 351.80,275.0 352.36,272.0 352.91,275.1 353.47,278.8 354.02,284.3 354.57,283.1 355.13,274.6 355.68,278.9 356.24,282.7 356.79,259.0 357.34,269.1 357.90,268.7 358.45,275.7 359.01,274.9 359.56,275.1 360.11,267.9 360.67,286.1 361.22,281.4 361.78,258.8 362.33,278.3 362.88,264.9 363.44,298.3 363.99,272.8 364.55,273.5 365.10,279.2 365.65,275.8 366.21,277.5 366.76,296.4 367.32,280.9 367.87,288.0 368.42,291.5 368.98,266.7 369.53,298.1 370.09,286.3 370.64,289.5 371.19,268.0 371.75,287.9 372.30,283.1 372.85,271.9 373.41,274.7 373.96,284.9 374.52,275.4 375.07,280.5 375.62,289.0 376.18,291.6 376.73,285.1 377.29,292.6 377.84,295.6 378.39,263.7 378.95,272.5 379.50,267.1 380.06,279.4 380.61,295.3 381.16,285.9 381.72,265.9 382.27,309.7 382.83,290.4 383.38,272.0 383.93,277.1 384.49,281.8 385.04,256.7 385.60,287.4 386.15,282.3 386.70,284.9 387.26,266.7 387.81,269.2 388.37,271.2 388.92,281.2 389.47,279.1 390.03,279.7 390.58,299.4 391.14,293.6 391.69,269.8 392.24,270.5 392.80,298.5 393.35,274.5 393.90,294.5 394.46,297.1 395.01,271.8 395.57,275.1 396.12,279.2 396.67,268.0 397.23,266.7 397.78,273.5 398.34,288.3 398.89,273.0 399.44,275.8 400.00,272.7 400.55,262.1 401.11,295.8 401.66,268.3 402.21,270.5 402.77,284.8 403.32,261.8 403.88,285.4 404.43,293.0 404.98,268.1 405.54,280.7 406.09,265.1 406.65,284.2 407.20,279.3 407.75,280.8 408.31,294.4 408.86,283.8 409.42,294.1 409.97,285.7 410.52,264.1 411.08,281.3 411.63,284.0 412.19,261.2 412.74,294.0 413.29,279.0 413.85,282.6 414.40,267.6 414.95,279.1 415.51,281.8 416.06,274.4 416.62,279.2 417.17,253.2 417.72,294.3 418.28,265.1 418.83,252.5 419.39,266.9 419.94,268.4 420.49,284.6 421.05,267.4 421.60,281.6 422.16,266.9 422.71,285.4 423.26,284.7 423.82,301.3 424.37,266.2 424.93,286.0 425.48,266.9 426.03,285.0 426.59,286.2 427.14,259.4 427.70,264.8 428.25,264.4 428.80,260.5 429.36,269.6 429.91,266.9 430.47,261.1 431.02,279.3 431.57,284.6 432.13,262.7 432.68,271.6 433.24,278.3 433.79,275.4 434.34,269.9 434.90,287.7 435.45,288.1 436.01,286.2 436.56,275.7 437.11,301.6 437.67,298.7 438.22,273.4 438.77,276.7 439.33,292.2 439.88,268.7 440.44,282.8 440.99,278.7 441.54,269.8 442.10,275.4 442.65,259.6 443.21,271.7 443.76,254.6 444.31,293.3 444.87,295.9 445.42,292.6 445.98,281.7 446.53,289.9 447.08,293.1 447.64,290.1 448.19,288.9 448.75,267.3 449.30,283.1 449.85,271.8 450.41,264.1 450.96,264.6 451.52,283.1 452.07,290.5 452.62,261.9 453.18,298.7 453.73,295.4 454.29,273.6 454.84,272.6 455.39,277.2 455.95,289.6 456.50,273.5 457.06,265.0 457.61,282.1 458.16,253.7 458.72,279.7 459.27,291.7 459.82,281.6 460.38,287.2 460.93,283.8 461.49,286.6 462.04,279.7 462.59,268.2 463.15,275.4 463.70,277.1 464.26,292.9 464.81,297.2 465.36,283.0 465.92,269.1 466.47,269.4 467.03,275.8 467.58,294.4 468.13,281.9 468.69,277.3 469.24,269.0 469.80,288.4 470.35,281.4 470.90,277.4 471.46,279.2 472.01,297.9 472.57,276.1 473.12,297.9 473.67,292.7 474.23,278.6 474.78,288.4 475.34,276.5 475.89,268.2 476.44,274.8 477.00,267.3 477.55,284.0 478.11,278.2 478.66,284.7 479.21,287.8 479.77,281.7 480.32,281.7 480.87,256.7 481.43,280.0 481.98,267.6 482.54,279.2 483.09,294.1 483.64,257.8 484.20,280.2 484.75,277.1 485.31,255.7 485.86,285.6 486.41,278.4 486.97,272.0 487.52,269.5 488.08,291.7 488.63,244.8 489.18,256.8 489.74,267.0 490.29,273.7 490.85,273.5 491.40,277.1 491.95,265.6 492.51,284.4 493.06,272.3 493.62,261.9 494.17,268.4 494.72,273.5 495.28,288.0 495.83,283.7 496.39,274.0 496.94,278.2 497.49,280.5 498.05,302.1 498.60,270.7 499.16,283.5 499.71,286.6 500.26,266.8 500.82,280.2 501.37,279.9 501.92,272.5 502.48,284.7 503.03,290.1 503.59,291.3 504.14,275.7 504.69,280.2 505.25,280.1 505.80,265.0 506.36,280.6 506.91,288.5 507.46,279.8 508.02,285.7 508.57,280.0 509.13,286.9 509.68,293.1 510.23,275.4 510.79,280.3 511.34,277.3 511.90,273.2 512.45,277.8 513.00,264.6 513.56,286.8 514.11,298.1 514.67,298.1 515.22,293.1 515.77,266.6 516.33,295.9 516.88,269.6 517.44,277.4 517.99,299.8 518.54,265.4 519.10,287.9 519.65,281.3 520.21,276.2 520.76,267.7 521.31,283.0 521.87,272.5 522.42,290.3 522.97,292.4 523.53,261.7 524.08,272.0 524.64,274.2 525.19,264.1 525.74,264.8 526.30,279.0 526.85,275.5 527.41,258.5 527.96,271.7 528.51,284.1 529.07,263.8 529.62,267.1 530.18,296.7 530.73,293.5 531.28,258.9 531.84,262.1 532.39,282.5 532.95,263.9 533.50,275.0" fill="none" stroke="#D95319" stroke-width="0.4" stroke-opacity="0.72" shape-rendering="crispEdges"/>

<path d="M35.5 10.3H533.9V354.4H35.5Z" fill="none" stroke="#999" stroke-width="1.1"/>
<text x="35.4" y="377" text-anchor="middle" class="t">20</text><rect x="35.0" y="14.4" width="3.2" height="1.6" fill="#000"/><rect x="35.0" y="348.6" width="3.2" height="1.6" fill="#000"/><text x="118.0" y="377" text-anchor="middle" class="t">30</text><line x1="117.6" y1="10.4" x2="117.6" y2="15.4" stroke="#888" stroke-width="1"/><line x1="117.6" y1="354.4" x2="117.6" y2="349.4" stroke="#888" stroke-width="1"/><rect x="117.1" y="14.4" width="3.2" height="1.6" fill="#000"/><rect x="117.1" y="348.6" width="3.2" height="1.6" fill="#000"/><text x="201.0" y="377" text-anchor="middle" class="t">40</text><line x1="201.4" y1="10.4" x2="201.4" y2="15.4" stroke="#888" stroke-width="1"/><line x1="201.4" y1="354.4" x2="201.4" y2="349.4" stroke="#888" stroke-width="1"/><rect x="200.9" y="14.4" width="3.2" height="1.6" fill="#000"/><rect x="200.9" y="348.6" width="3.2" height="1.6" fill="#000"/><text x="284.8" y="377" text-anchor="middle" class="t">50</text><line x1="284.5" y1="10.4" x2="284.5" y2="15.4" stroke="#888" stroke-width="1"/><line x1="284.5" y1="354.4" x2="284.5" y2="349.4" stroke="#888" stroke-width="1"/><rect x="284.0" y="14.4" width="3.2" height="1.6" fill="#000"/><rect x="284.0" y="348.6" width="3.2" height="1.6" fill="#000"/><text x="366.8" y="377" text-anchor="middle" class="t">60</text><line x1="366.6" y1="10.4" x2="366.6" y2="15.4" stroke="#888" stroke-width="1"/><line x1="366.6" y1="354.4" x2="366.6" y2="349.4" stroke="#888" stroke-width="1"/><rect x="366.1" y="14.4" width="3.2" height="1.6" fill="#000"/><rect x="366.1" y="348.6" width="3.2" height="1.6" fill="#000"/><text x="450.6" y="377" text-anchor="middle" class="t">70</text><line x1="450.5" y1="10.4" x2="450.5" y2="15.4" stroke="#888" stroke-width="1"/><line x1="450.5" y1="354.4" x2="450.5" y2="349.4" stroke="#888" stroke-width="1"/><rect x="450.0" y="14.4" width="3.2" height="1.6" fill="#000"/><rect x="450.0" y="348.6" width="3.2" height="1.6" fill="#000"/><text x="533.6" y="377" text-anchor="middle" class="t">80</text><rect x="533.4" y="14.4" width="3.2" height="1.6" fill="#000"/><rect x="533.4" y="348.6" width="3.2" height="1.6" fill="#000"/><rect x="35" y="9.6" width="3.2" height="1.6" fill="#000"/><rect x="533.2" y="9.6" width="3.4" height="1.6" fill="#000"/><rect x="533.2" y="353.6" width="3.4" height="1.6" fill="#000"/>
<rect x="229.1" y="27.8" width="291.6" height="65.8" fill="#fff" stroke="#999" stroke-width="1.1"/>
<rect x="229" y="27" width="3" height="1.6" fill="#000"/>
<rect x="520.4" y="27" width="2.8" height="1.6" fill="#000"/>
<rect x="520.4" y="93.2" width="2.8" height="1.8" fill="#000"/>
<line x1="239.8" y1="44.5" x2="295.8" y2="44.5" stroke="#0072BD" stroke-width="1.4" stroke-opacity="0.32"/>
<line x1="239.8" y1="74.8" x2="295.8" y2="74.8" stroke="#D95319" stroke-width="1.4" stroke-opacity="0.27"/>
<text x="301" y="52.5" class="lg">Fe-based amorphous alloy</text>
<text x="301" y="83" class="lg">powders</text>
<text transform="translate(20.8,237.2) rotate(-90)" class="yl">Intensity(a.u)</text>
<text x="241.5" y="402.8" class="t">2</text>
<text transform="translate(251.0,403.8) skewX(-20)" font-family="Noto Serif CJK SC,Liberation Serif,serif" font-size="19px" fill="#000">θ</text>
<text transform="translate(266.0,402.8) scale(0.72,1)" class="t" stroke="#000" stroke-width="0.5">/</text>
<text x="270.6" y="402.8" class="t" letter-spacing="-0.5">degree</text>
</svg>
</body></html>
